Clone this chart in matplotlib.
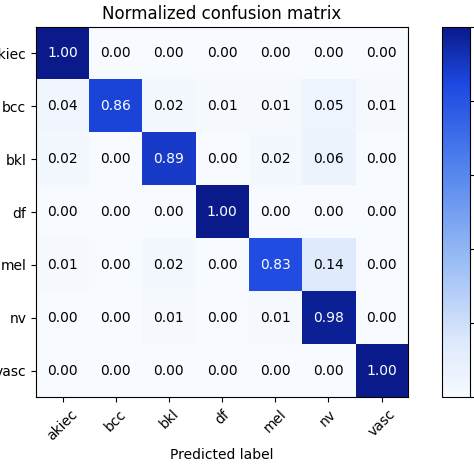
import matplotlib
matplotlib.use("Agg")
import matplotlib.pyplot as plt
from matplotlib.colors import LinearSegmentedColormap
import numpy as np

labels = ["akiec", "bcc", "bkl", "df", "mel", "nv", "vasc"]
row_akiec = [1.00, 0.00, 0.00, 0.00, 0.00, 0.00, 0.00]
row_bcc   = [0.04, 0.86, 0.02, 0.01, 0.01, 0.05, 0.01]
row_bkl   = [0.02, 0.00, 0.89, 0.00, 0.02, 0.06, 0.00]
row_df    = [0.00, 0.00, 0.00, 1.00, 0.00, 0.00, 0.00]
row_mel   = [0.01, 0.00, 0.02, 0.00, 0.83, 0.14, 0.00]
row_nv    = [0.00, 0.00, 0.01, 0.00, 0.01, 0.98, 0.00]
row_vasc  = [0.00, 0.00, 0.00, 0.00, 0.00, 0.00, 1.00]
cm = np.array([row_akiec, row_bcc, row_bkl, row_df, row_mel, row_nv, row_vasc])

cmap = LinearSegmentedColormap.from_list(
    "vivid_blues",
    [(0.0, "#f7faff"), (0.15, "#dde9fc"), (0.4, "#90b6f4"),
     (0.65, "#4a7cec"), (0.85, "#1c48e0"), (1.0, "#0a1a8a")])

fig = plt.figure(figsize=(4.74, 4.74), dpi=100)
ax = fig.add_axes([0.076, 0.162, 0.785, 0.781])
im = ax.imshow(cm, cmap=cmap, vmin=0, vmax=1, aspect="auto")
ax.set_title("Normalized confusion matrix", fontsize=12)
ax.set_xticks(range(len(labels)))
ax.set_xticklabels(labels, rotation=45)
ax.set_yticks(range(len(labels)))
ax.set_yticklabels(labels)
ax.set_xlabel("Predicted label")
for i in range(cm.shape[0]):
    for j in range(cm.shape[1]):
        ax.text(j, i, f"{cm[i, j]:.2f}", ha="center", va="center",
                color="white" if cm[i, j] > 0.5 else "black", fontsize=10)
cax = fig.add_axes([0.932, 0.162, 0.06, 0.781])
fig.colorbar(im, cax=cax)
fig.savefig("out.png", dpi=100)
